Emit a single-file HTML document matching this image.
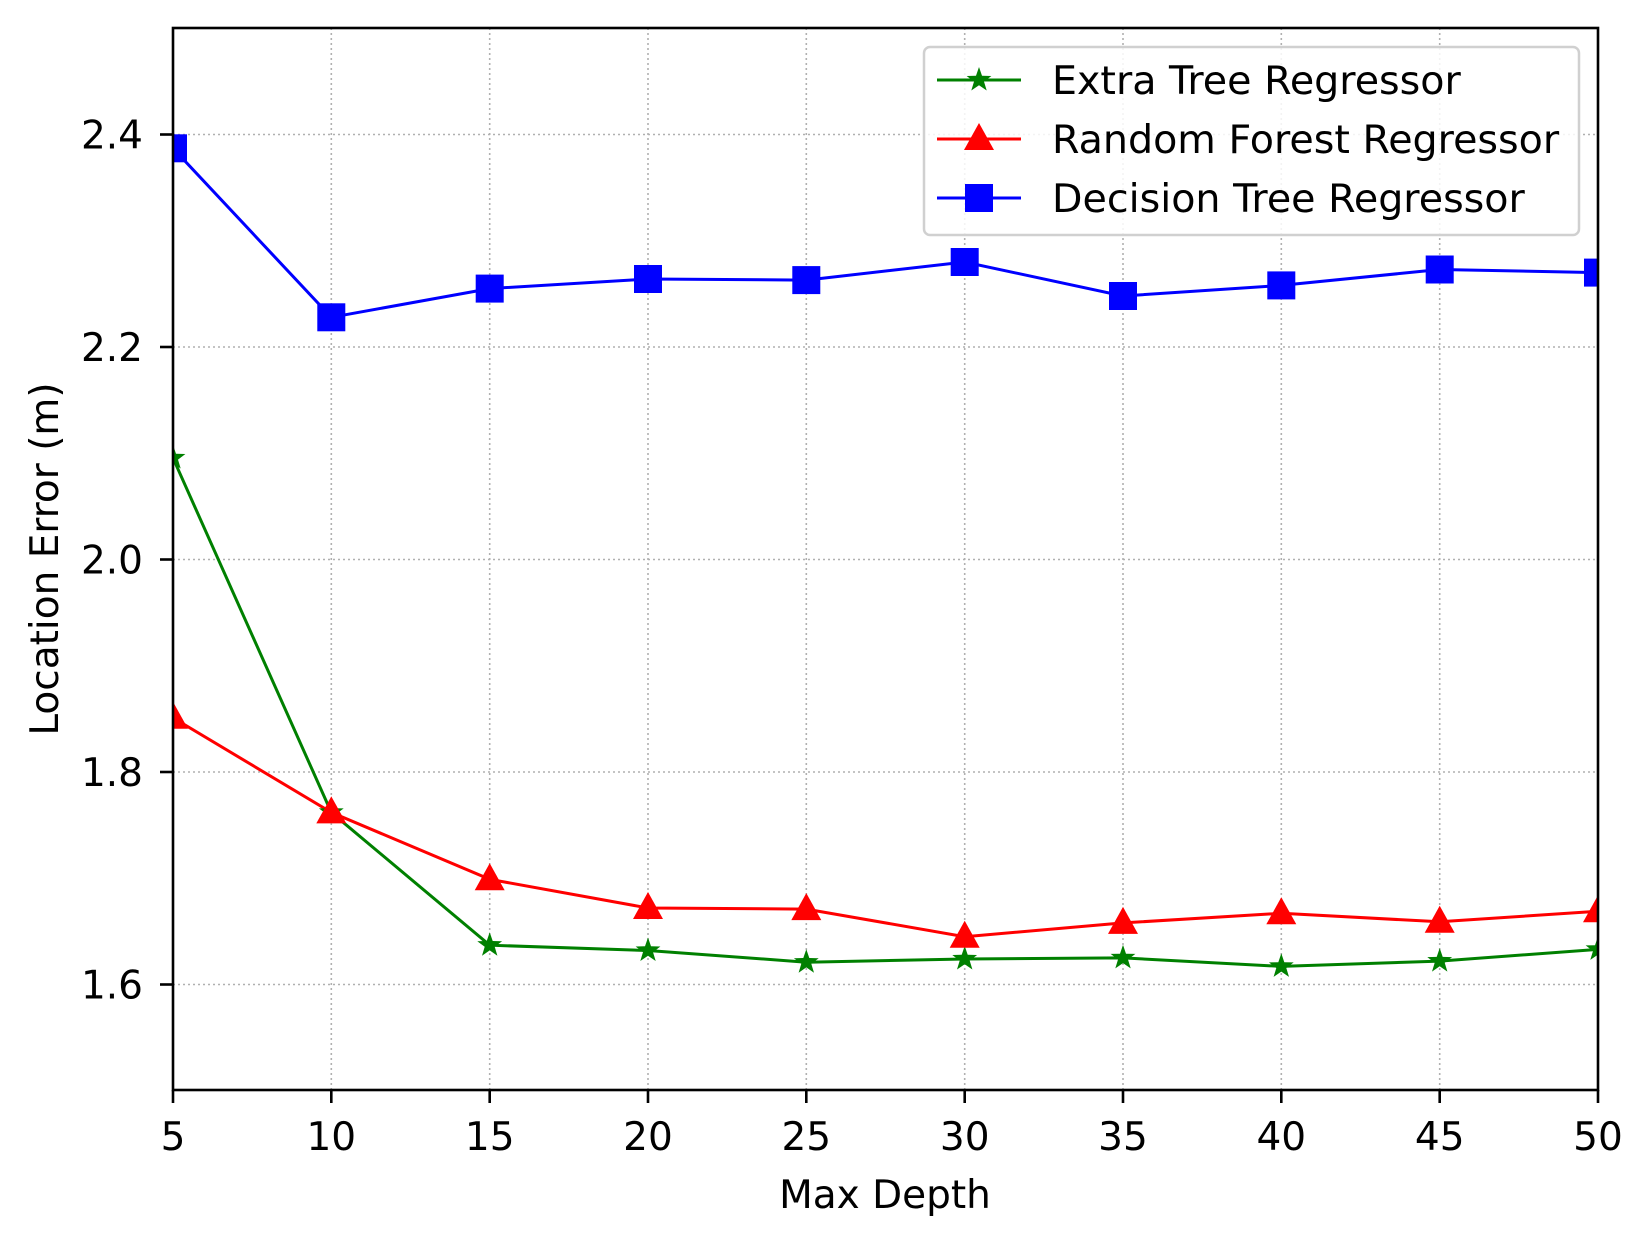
<!DOCTYPE html>
<html><head><meta charset="utf-8"><style>
html,body{margin:0;padding:0;background:#fff;}
svg{display:block;}
text{font-family:"DejaVu Sans","Liberation Sans",sans-serif;fill:#000;}
</style></head><body>
<svg width="1642" height="1233" viewBox="0 0 1642 1233" xmlns="http://www.w3.org/2000/svg">
<defs>
<clipPath id="ax"><rect x="173" y="28" width="1425" height="1062"/></clipPath>
<path id="star" d="M0,-13 L3,-4.2 L12.4,-4 L5,1.6 L7.7,10.5 L0,5.2 L-7.7,10.5 L-5,1.6 L-12.4,-4 L-3,-4.2 Z" fill="green"/>
<path id="tri" d="M0,-16 L15,11 L-15,11 Z" fill="red"/>
<rect id="sq" x="-14" y="-14" width="28" height="28" fill="blue"/>
</defs>
<rect width="1642" height="1233" fill="#fff"/>
<g stroke="#b0b0b0" stroke-width="1.6" stroke-dasharray="2,3">
<line x1="331.3" y1="28" x2="331.3" y2="1090"/><line x1="489.7" y1="28" x2="489.7" y2="1090"/>
<line x1="648" y1="28" x2="648" y2="1090"/><line x1="806.3" y1="28" x2="806.3" y2="1090"/>
<line x1="964.7" y1="28" x2="964.7" y2="1090"/><line x1="1123" y1="28" x2="1123" y2="1090"/>
<line x1="1281.3" y1="28" x2="1281.3" y2="1090"/><line x1="1439.7" y1="28" x2="1439.7" y2="1090"/>
<line x1="173" y1="984.5" x2="1598" y2="984.5"/><line x1="173" y1="772" x2="1598" y2="772"/>
<line x1="173" y1="559.5" x2="1598" y2="559.5"/><line x1="173" y1="347" x2="1598" y2="347"/>
<line x1="173" y1="134.5" x2="1598" y2="134.5"/>
</g>
<g clip-path="url(#ax)">
<polyline fill="none" stroke="blue" stroke-width="3" points="173,148.3 331.3,317.3 489.7,288.6 648,279 806.3,280.1 964.7,262 1123,296 1281.3,285.4 1439.7,269.5 1598,272.6"/>
<polyline fill="none" stroke="red" stroke-width="3" points="173,717.8 331.3,812.4 489.7,879.3 648,908 806.3,909.1 964.7,936.7 1123,922.9 1281.3,913.3 1439.7,921.8 1598,911.2"/>
<polyline fill="none" stroke="green" stroke-width="3" points="173,458 331.3,812.4 489.7,945.2 648,950.5 806.3,962.2 964.7,959 1123,957.9 1281.3,966.4 1439.7,961.1 1598,949.4"/>
<use href="#sq" x="173" y="148.3"/><use href="#sq" x="331.3" y="317.3"/><use href="#sq" x="489.7" y="288.6"/><use href="#sq" x="648" y="279"/><use href="#sq" x="806.3" y="280.1"/><use href="#sq" x="964.7" y="262"/><use href="#sq" x="1123" y="296"/><use href="#sq" x="1281.3" y="285.4"/><use href="#sq" x="1439.7" y="269.5"/><use href="#sq" x="1598" y="272.6"/>
<use href="#star" x="173" y="458"/><use href="#star" x="331.3" y="812.4"/><use href="#star" x="489.7" y="945.2"/><use href="#star" x="648" y="950.5"/><use href="#star" x="806.3" y="962.2"/><use href="#star" x="964.7" y="959"/><use href="#star" x="1123" y="957.9"/><use href="#star" x="1281.3" y="966.4"/><use href="#star" x="1439.7" y="961.1"/><use href="#star" x="1598" y="949.4"/>
<use href="#tri" x="173" y="717.8"/><use href="#tri" x="331.3" y="812.4"/><use href="#tri" x="489.7" y="879.3"/><use href="#tri" x="648" y="908"/><use href="#tri" x="806.3" y="909.1"/><use href="#tri" x="964.7" y="936.7"/><use href="#tri" x="1123" y="922.9"/><use href="#tri" x="1281.3" y="913.3"/><use href="#tri" x="1439.7" y="921.8"/><use href="#tri" x="1598" y="911.2"/>
</g>
<rect x="173" y="28" width="1425" height="1062" fill="none" stroke="#000" stroke-width="2.6"/>
<g stroke="#000" stroke-width="2.6">
<line x1="173" y1="1090" x2="173" y2="1103"/><line x1="331.3" y1="1090" x2="331.3" y2="1103"/><line x1="489.7" y1="1090" x2="489.7" y2="1103"/><line x1="648" y1="1090" x2="648" y2="1103"/><line x1="806.3" y1="1090" x2="806.3" y2="1103"/><line x1="964.7" y1="1090" x2="964.7" y2="1103"/><line x1="1123" y1="1090" x2="1123" y2="1103"/><line x1="1281.3" y1="1090" x2="1281.3" y2="1103"/><line x1="1439.7" y1="1090" x2="1439.7" y2="1103"/><line x1="1598" y1="1090" x2="1598" y2="1103"/>
<line x1="160" y1="984.5" x2="173" y2="984.5"/><line x1="160" y1="772" x2="173" y2="772"/><line x1="160" y1="559.5" x2="173" y2="559.5"/><line x1="160" y1="347" x2="173" y2="347"/><line x1="160" y1="134.5" x2="173" y2="134.5"/>
</g>
<g font-size="39" text-anchor="middle">
<text x="173" y="1150">5</text><text x="331.3" y="1150">10</text><text x="489.7" y="1150">15</text><text x="648" y="1150">20</text><text x="806.3" y="1150">25</text><text x="964.7" y="1150">30</text><text x="1123" y="1150">35</text><text x="1281.3" y="1150">40</text><text x="1439.7" y="1150">45</text><text x="1598" y="1150">50</text>
</g>
<g font-size="39" text-anchor="end">
<text x="143" y="998.5">1.6</text><text x="143" y="786">1.8</text><text x="143" y="573.5">2.0</text><text x="143" y="361">2.2</text><text x="143" y="148.5">2.4</text>
</g>
<text x="885" y="1208" font-size="39" text-anchor="middle">Max Depth</text>
<text transform="translate(58,559) rotate(-90)" font-size="39" text-anchor="middle">Location Error (m)</text>
<rect x="924" y="47" width="655" height="188" rx="6" fill="#fff" fill-opacity="0.85" stroke="#d0d0d0" stroke-width="2.5"/>
<line x1="937" y1="80" x2="1021" y2="80" stroke="green" stroke-width="3"/><use href="#star" x="979" y="80"/>
<line x1="937" y1="139" x2="1021" y2="139" stroke="red" stroke-width="3"/><use href="#tri" x="979" y="139"/>
<line x1="937" y1="198" x2="1021" y2="198" stroke="blue" stroke-width="3"/><use href="#sq" x="979" y="198"/>
<g font-size="39.6">
<text x="1052" y="94">Extra Tree Regressor</text>
<text x="1052" y="153">Random Forest Regressor</text>
<text x="1052" y="212">Decision Tree Regressor</text>
</g>
</svg>
</body></html>
